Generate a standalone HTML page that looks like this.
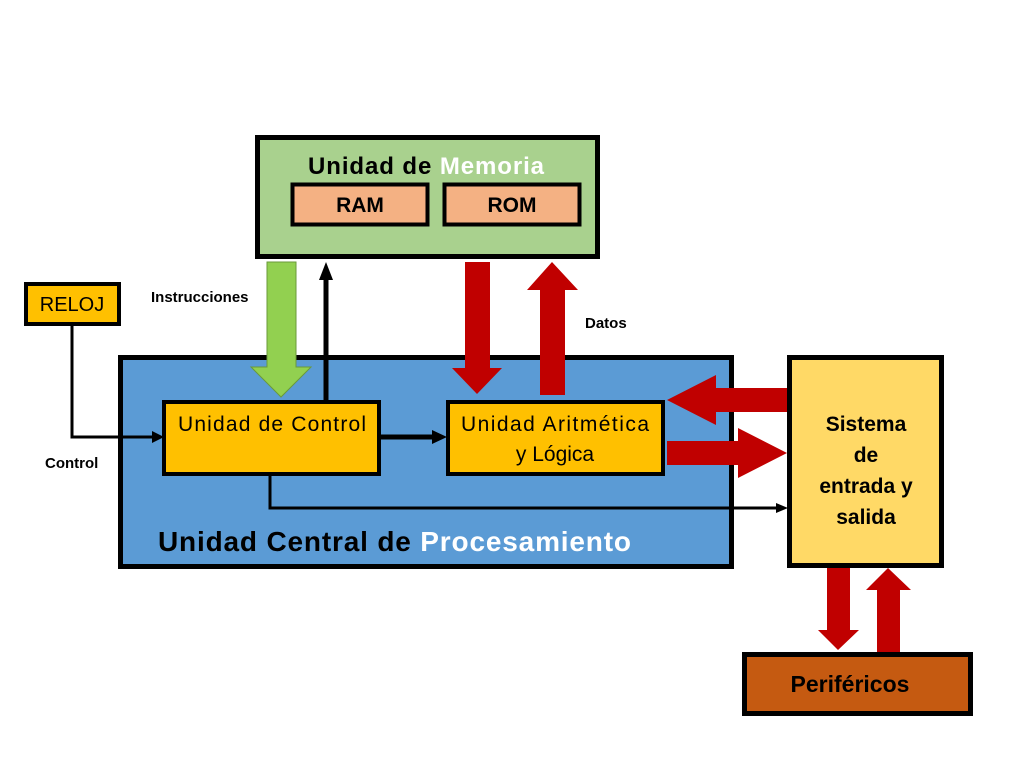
<!DOCTYPE html>
<html><head><meta charset="utf-8"><style>
body{margin:0;background:#fff;}
svg text{font-family:"Liberation Sans",sans-serif;}
</style></head><body>
<svg width="1024" height="768" viewBox="0 0 1024 768" xmlns="http://www.w3.org/2000/svg">
<rect width="1024" height="768" fill="#fff"/>
<!-- Memory -->
<rect x="257.5" y="137.5" width="340" height="119" fill="#a9d18e" stroke="#000" stroke-width="5"/>
<text x="426" y="174" font-size="24" font-weight="bold" text-anchor="middle" fill="#000" textLength="236">Unidad de <tspan fill="#fff">Memoria</tspan></text>
<rect x="292.5" y="184.5" width="135" height="40" fill="#f4b183" stroke="#000" stroke-width="4"/>
<text x="360" y="212" font-size="21" font-weight="bold" text-anchor="middle">RAM</text>
<rect x="444.5" y="184.5" width="135" height="40" fill="#f4b183" stroke="#000" stroke-width="4"/>
<text x="512" y="212" font-size="21" font-weight="bold" text-anchor="middle">ROM</text>
<!-- CPU -->
<rect x="120.5" y="357.5" width="611" height="209" fill="#5b9bd5" stroke="#000" stroke-width="5"/>
<text x="158" y="551" font-size="28" font-weight="bold" fill="#000" textLength="473">Unidad Central de <tspan fill="#fff">Procesamiento</tspan></text>
<!-- lines -->
<polyline points="72,325 72,437 155,437" fill="none" stroke="#000" stroke-width="3"/>
<polygon points="152,431 164,437 152,443" fill="#000"/>
<polyline points="270,475 270,508 778,508" fill="none" stroke="#000" stroke-width="3"/>
<polygon points="776,503 788,508 776,513" fill="#000"/>
<line x1="380" y1="437" x2="436" y2="437" stroke="#000" stroke-width="5"/>
<polygon points="432,430 447,437 432,444" fill="#000"/>
<line x1="326" y1="402" x2="326" y2="275" stroke="#000" stroke-width="5"/>
<polygon points="319,280 326,262 333,280" fill="#000"/>
<!-- boxes -->
<rect x="164" y="402" width="215" height="72" fill="#ffc000" stroke="#000" stroke-width="4"/>
<text x="272" y="431" font-size="21" text-anchor="middle" textLength="188">Unidad de Control</text>
<rect x="448" y="402" width="215" height="72" fill="#ffc000" stroke="#000" stroke-width="4"/>
<text x="555" y="431" font-size="21" text-anchor="middle" textLength="188">Unidad Aritmética</text>
<text x="555" y="461" font-size="21" text-anchor="middle">y Lógica</text>
<rect x="789.5" y="357.5" width="152" height="208" fill="#ffd966" stroke="#000" stroke-width="5"/>
<g font-size="21" font-weight="bold" text-anchor="middle"><text x="866" y="431">Sistema</text><text x="866" y="462">de</text><text x="866" y="493">entrada y</text><text x="866" y="524">salida</text></g>
<rect x="744.5" y="654.5" width="226" height="59" fill="#c55a11" stroke="#000" stroke-width="5"/>
<text x="850" y="692" font-size="23" font-weight="bold" text-anchor="middle">Periféricos</text>
<rect x="26" y="284" width="93" height="40" fill="#ffc000" stroke="#000" stroke-width="4"/>
<text x="72" y="311" font-size="20" text-anchor="middle">RELOJ</text>
<!-- arrows -->
<polygon points="267,262 296,262 296,367 311,367 281,397 251,367 267,367" fill="#92d050" stroke="#6a9a3a" stroke-width="1"/>
<polygon points="465,262 490,262 490,368 502,368 477,394 452,368 465,368" fill="#c00000"/>
<polygon points="540,395 565,395 565,290 578,290 552,262 527,290 540,290" fill="#c00000"/>
<polygon points="787,388 716,388 716,375 667,400 716,425 716,412 787,412" fill="#c00000"/>
<polygon points="667,441 738,441 738,428 787,453 738,478 738,465 667,465" fill="#c00000"/>
<polygon points="827,568 850,568 850,630 859,630 838,650 818,630 827,630" fill="#c00000"/>
<polygon points="877,652 900,652 900,590 911,590 888,568 866,590 877,590" fill="#c00000"/>
<!-- labels -->
<text x="151" y="302" font-size="15" font-weight="bold">Instrucciones</text>
<text x="585" y="328" font-size="15" font-weight="bold">Datos</text>
<text x="45" y="468" font-size="15" font-weight="bold">Control</text>
</svg>
</body></html>
